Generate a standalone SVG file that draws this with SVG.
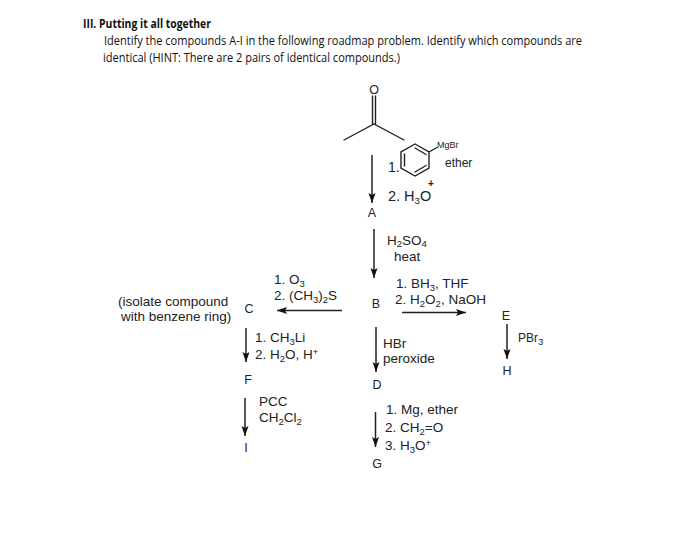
<svg xmlns="http://www.w3.org/2000/svg" width="700" height="552" viewBox="0 0 700 552">
<style>
text{font-family:"Liberation Sans",Arial,sans-serif;font-size:13.5px;fill:#222}
.h{font-family:"Open Sans","Noto Sans",sans-serif;font-size:12px;fill:#111}
.b{font-weight:700}
.m{text-anchor:middle;font-size:12.5px}
.s{font-size:9.5px}
.c{fill:none;stroke:#222;stroke-width:1.4;stroke-linecap:round}
.a{fill:none;stroke:#222;stroke-width:1.5}
</style>
<defs>
<marker id="ah" markerUnits="userSpaceOnUse" markerWidth="12" markerHeight="12" refX="10" refY="3.500" orient="auto"><path d="M0,0L10,3.500L0,7L2,3.500Z" fill="#111"/></marker>
</defs>
<rect width="700" height="552" fill="#fff"/>
<g id="heading">
<text class="h b" x="83" y="28" textLength="128" lengthAdjust="spacingAndGlyphs">III. Putting it all together</text>
<text class="h" x="104" y="45" textLength="478" lengthAdjust="spacingAndGlyphs">Identify the compounds A-I in the following roadmap problem. Identify which compounds are</text>
<text class="h" x="103" y="62" textLength="297" lengthAdjust="spacingAndGlyphs">identical (HINT: There are 2 pairs of identical compounds.)</text>
</g>
<g id="connectors">
<path class="a" d="M372 155V203" marker-end="url(#ah)"/>
<path class="a" d="M374 229V278" marker-end="url(#ah)"/>
<path class="a" d="M402 312.500H466" marker-end="url(#ah)"/>
<path class="a" d="M342 310.500H277" marker-end="url(#ah)"/>
<path class="a" d="M507 324V359" marker-end="url(#ah)"/>
<path class="a" d="M376 327V372" marker-end="url(#ah)"/>
<path class="a" d="M375.500 412V447" marker-end="url(#ah)"/>
<path class="a" d="M245 398V436" marker-end="url(#ah)"/>
<path class="a" d="M246 328V362" marker-end="url(#ah)"/>
</g>
<g id="ketone">
<text class="m" x="374" y="94">O</text>
<path class="c" d="M372.500 96V124M375.500 96V124M344 140L374 124L404 140"/>
</g>
<g id="reagent-phmgbr">
<path class="c" d="M415 144L429 152V168L415 176L401 168V152ZM404.500 154V166M415 172L426 165.500M415 148L426 154.500M429 152L437 147.500"/>
<text x="437" y="148" style="font-size:9px">MgBr</text>
<text x="388" y="172" style="font-size:14px">1.</text>
<text x="445" y="167" style="font-size:12px">ether</text>
<text x="388" y="201" style="font-size:14.500px">2. H<tspan class="s" dy="3">3</tspan><tspan dy="-3">O</tspan></text>
<text x="428" y="187" class="b" style="font-size:10px">+</text>
</g>
<g id="A"><text class="m" x="372" y="217">A</text></g>
<g id="reagent-h2so4">
<text x="387" y="245">H<tspan class="s" dy="2">2</tspan><tspan dy="-2">SO</tspan><tspan class="s" dy="2">4</tspan></text>
<text x="394" y="261">heat</text>
</g>
<g id="B"><text class="m" x="376" y="308">B</text></g>
<g id="reagent-bh3">
<text x="396" y="288">1. BH<tspan class="s" dy="3">3</tspan><tspan dy="-3">, THF</tspan></text>
<text x="395" y="304">2. H<tspan class="s" dy="3">2</tspan><tspan dy="-3">O</tspan><tspan class="s" dy="3">2</tspan><tspan dy="-3">, NaOH</tspan></text>
</g>
<g id="E"><text class="m" x="506" y="320">E</text></g>
<g id="reagent-pbr3"><text x="518" y="342" style="font-size:12px">PBr<tspan class="s" dy="3">3</tspan></text></g>
<g id="H"><text class="m" x="507" y="375">H</text></g>
<g id="reagent-hbr">
<text x="383" y="348">HBr</text>
<text x="383" y="363">peroxide</text>
</g>
<g id="D"><text class="m" x="377" y="389">D</text></g>
<g id="reagent-mg">
<text x="386" y="414">1. Mg, ether</text>
<text x="385" y="432">2. CH<tspan class="s" dy="3">2</tspan><tspan dy="-3">=O</tspan></text>
<text x="385" y="450">3. H<tspan class="s" dy="3">3</tspan><tspan dy="-3">O</tspan><tspan class="s" dy="-4">+</tspan></text>
</g>
<g id="G"><text class="m" x="377" y="468">G</text></g>
<g id="C"><text class="m" x="249" y="313">C</text></g>
<g id="note-c">
<text x="118" y="306">(isolate compound</text>
<text x="121" y="321">with benzene ring)</text>
</g>
<g id="reagent-o3">
<text x="274" y="284">1. O<tspan class="s" dy="3">3</tspan></text>
<text x="274" y="300">2. (CH<tspan class="s" dy="3">3</tspan><tspan dy="-3">)</tspan><tspan class="s" dy="3">2</tspan><tspan dy="-3">S</tspan></text>
</g>
<g id="reagent-ch3li">
<text x="255" y="342">1. CH<tspan class="s" dy="3">3</tspan><tspan dy="-3">Li</tspan></text>
<text x="255" y="359">2. H<tspan class="s" dy="3">2</tspan><tspan dy="-3">O, H</tspan><tspan class="s" dy="-4">+</tspan></text>
</g>
<g id="F"><text class="m" x="248" y="384">F</text></g>
<g id="reagent-pcc">
<text x="259" y="406">PCC</text>
<text x="259" y="422">CH<tspan class="s" dy="3">2</tspan><tspan dy="-3">Cl</tspan><tspan class="s" dy="3">2</tspan></text>
</g>
<g id="I"><text class="m" x="246" y="452">I</text></g>
</svg>
